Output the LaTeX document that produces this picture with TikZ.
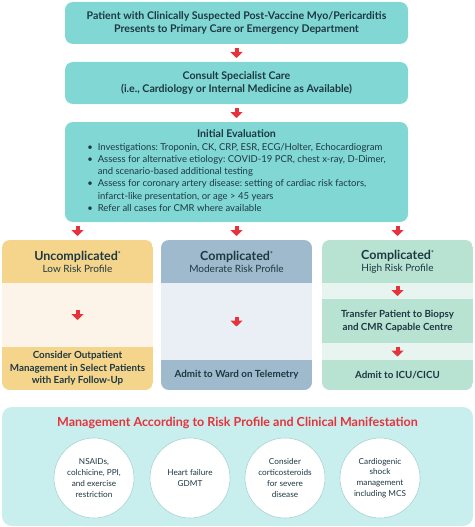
\documentclass[tikz,border=0pt]{standalone}
\usepackage{fontspec}
\setmainfont{Lato}
\usetikzlibrary{arrows.meta}
\frenchspacing
\definecolor{tealbox}{HTML}{80D7D4}
\definecolor{ink}{HTML}{1E3842}
\definecolor{arrred}{HTML}{E5323B}
\definecolor{gold}{HTML}{F5D58C}
\definecolor{cream}{HTML}{FCF4E8}
\definecolor{bluegray}{HTML}{9FBACD}
\definecolor{lightblue}{HTML}{E9EFF5}
\definecolor{green1}{HTML}{B8E2D2}
\definecolor{lightgreen}{HTML}{E7F4EF}
\definecolor{panelc}{HTML}{C9EEEE}
\definecolor{circb}{HTML}{A9D3D3}
\newcommand\myast{{\fontsize{6.5}{6.5}\selectfont\raisebox{4pt}{*}}}
\tikzset{
  box/.style={fill=tealbox, rounded corners=8pt, inner sep=0pt, outer sep=0pt,
    minimum width=343pt, text=ink, align=center,
    font=\bfseries\fontsize{10.6}{13}\selectfont},
  hdr/.style={inner sep=0pt, outer sep=0pt, minimum width=151pt, minimum height=43pt,
    text=ink, align=center},
  colbox/.style={inner sep=0pt, outer sep=0pt, minimum width=151pt, text=ink,
    align=center, font=\bfseries\fontsize{9.8}{12.5}\selectfont},
  redarr/.style={draw=arrred, line width=4pt, -{Triangle[width=12pt,length=6pt]},
    shorten <=4pt, shorten >=4pt},
  circ/.style={circle, fill=white, draw=circb, line width=0.6pt, minimum size=80pt,
    inner sep=0pt, align=center, text=ink, font=\fontsize{8.2}{10.8}\selectfont},
}
\newcommand\htitle[1]{{\fontsize{12.5}{13}\selectfont\bfseries #1\myast}}
\newcommand\hsub[1]{{\fontsize{10}{11}\selectfont #1}}
\begin{document}
\begin{tikzpicture}[x=1pt,y=-1pt]
\useasboundingbox (0,0) rectangle (474,527);
% top flow
\node[box, minimum height=42pt] (p) at (236.5,23)
  {Patient with Clinically Suspected Post-Vaccine Myo/Pericarditis\\Presents to Primary Care or Emergency Department};
\node[box, minimum height=42pt] (c) at (236.5,83)
  {Consult Specialist Care\\(i.e., Cardiology or Internal Medicine as Available)};
\node[box, minimum height=100pt, font=\fontsize{9.5}{12.2}\selectfont] (e) at (236.5,172)
  {\renewcommand\arraystretch{1}%
   \begin{tabular}{@{}c@{\hspace{5pt}}l@{}}
   \multicolumn{2}{c}{\bfseries\fontsize{10.6}{13}\selectfont Initial Evaluation}\\[0.5pt]
   \textbullet & Investigations: Troponin, CK, CRP, ESR, ECG/Holter, Echocardiogram\\
   \textbullet & Assess for alternative etiology: COVID-19 PCR, chest x-ray, D-Dimer,\\
               & and scenario-based additional testing\\
   \textbullet & Assess for coronary artery disease: setting of cardiac risk factors,\\
               & infarct-like presentation, or age > 45 years\\
   \textbullet & Refer all cases for CMR where available
   \end{tabular}};
% column 1
\begin{scope}
\clip[rounded corners=8pt] (2,240) rectangle (153,390);
\fill[cream] (2,240) rectangle (153,390);
\node[hdr, fill=gold] (h1) at (77.5,261.5) {\htitle{Uncomplicated}\\[0pt]\hsub{Low Risk Profile}};
\node[colbox, fill=gold, minimum height=43pt] (b1) at (77.5,368.5)
  {Consider Outpatient\\Management in Select Patients\\with Early Follow-Up};
\end{scope}
% column 2
\begin{scope}
\clip[rounded corners=8pt] (161,240) rectangle (312,390);
\fill[lightblue] (161,240) rectangle (312,390);
\node[hdr, fill=bluegray] (h2) at (236.5,261.5) {\htitle{Complicated}\\[0pt]\hsub{Moderate Risk Profile}};
\node[colbox, fill=bluegray, minimum height=30pt] (b2) at (236.5,375)
  {Admit to Ward on Telemetry};
\end{scope}
% column 3
\begin{scope}
\clip[rounded corners=8pt] (322,240) rectangle (473,390);
\fill[lightgreen] (322,240) rectangle (473,390);
\node[hdr, fill=green1] (h3) at (397.5,261.5) {\htitle{Complicated}\\[0pt]\hsub{High Risk Profile}};
\node[colbox, fill=green1, minimum height=44pt] (t3) at (397.5,321)
  {Transfer Patient to Biopsy\\and CMR Capable Centre};
\node[colbox, fill=green1, minimum height=30pt] (b3) at (397.5,375)
  {Admit to ICU/CICU};
\end{scope}
% arrows
\draw[redarr] (p) -- (c);
\draw[redarr] (c) -- (e);
\draw[redarr] (e.south -| h1.north) -- (h1.north);
\draw[redarr] (e) -- (h2);
\draw[redarr] (e.south -| h3.north) -- (h3.north);
\draw[redarr, shorten <=27pt, shorten >=27pt] (h1) -- (b1);
\draw[redarr, shorten <=33.5pt, shorten >=33.5pt] (h2) -- (b2);
\draw[redarr, shorten <=3pt, shorten >=3pt] (h3) -- (t3);
\draw[redarr, shorten <=3.5pt, shorten >=3.5pt] (t3) -- (b3);
% management panel
\node[fill=panelc, rounded corners=10pt, minimum width=471pt, minimum height=119pt,
  inner sep=0pt, outer sep=0pt] (m) at (237.5,466.5) {};
\node[text=arrred, font=\bfseries\fontsize{12.5}{14}\selectfont] (mt) at (237.5,423)
  {Management According to Risk Profile and Clinical Manifestation};
\node[circ] (c1) at (94,478) {NSAIDs,\\colchicine, PPI,\\and exercise\\restriction};
\node[circ] (c2) at (190,478) {Heart failure\\GDMT};
\node[circ] (c3) at (285,478) {Consider\\corticosteroids\\for severe\\disease};
\node[circ] (c4) at (380,478) {Cardiogenic\\shock\\management\\including MCS};
\end{tikzpicture}
\end{document}
